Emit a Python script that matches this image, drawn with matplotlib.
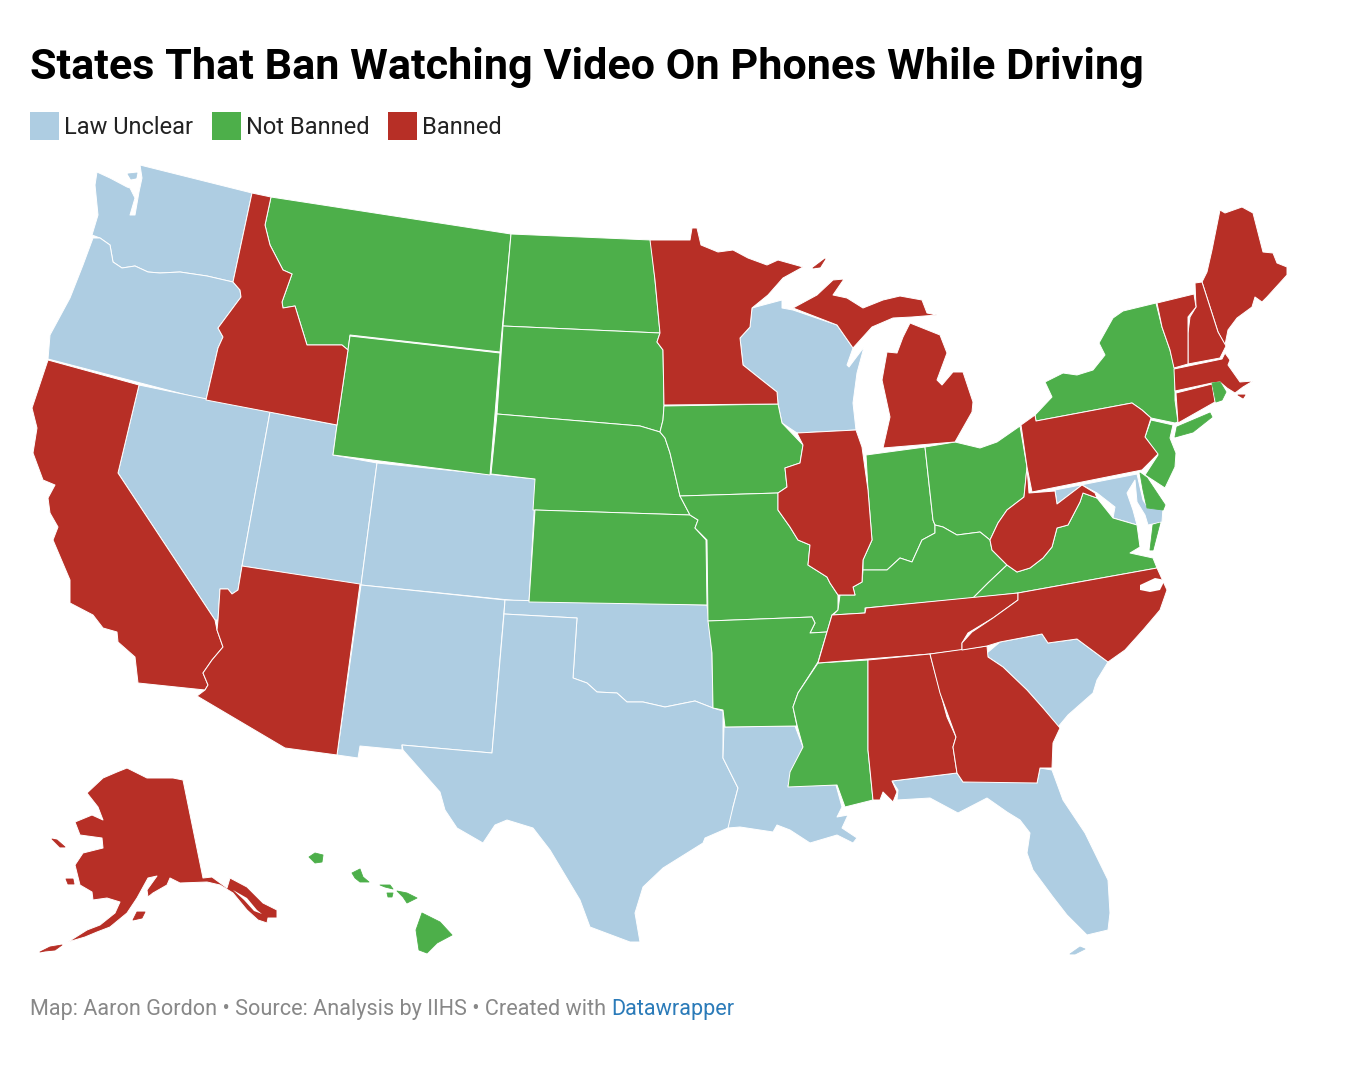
import matplotlib
matplotlib.use("Agg")
import matplotlib.pyplot as plt
from matplotlib.patches import Polygon, Rectangle

TITLE = "States That Ban Watching Video On Phones While Driving"
LEGEND_LABELS = ["Law Unclear", "Not Banned", "Banned"]
FOOTER = "Map: Aaron Gordon • Source: Analysis by IIHS • Created with"
FOOTER_LINK = "Datawrapper"
COLORS = {"unclear": "#aecde2", "open": "#4daf4a", "banned": "#b72f26"}

WA = [(97,172),(110,178),(127,187),(130,188),(135,198),(130,215),(135,215),(139,192),(142,178),(140,165),(252,193),(233,282),(207,276),(180,272),(160,273),(148,272),(135,266),(122,268),(113,262),(110,245),(100,238),(92,235),(95,225),(98,215),(95,185)]
WA_ISLE = [(128,174),(137,173),(136,178),(131,179)]
OR = [(93,238),(100,238),(110,245),(113,262),(122,268),(135,266),(148,272),(160,273),(180,272),(207,276),(233,282),(240,290),(241,297),(218,328),(223,337),(218,348),(206,400),(48,359),(50,335),(70,298),(83,265)]
CA = [(48,360),(139,385),(118,473),(215,620),(217,630),(223,647),(212,660),(203,673),(208,685),(205,690),(138,683),(135,657),(118,642),(117,632),(103,628),(93,615),(70,603),(70,580),(53,540),(58,527),(50,513),(48,498),(55,485),(43,480),(33,453),(37,428),(32,408)]
NV = [(139,385),(270,412),(242,566),(238,590),(232,594),(228,589),(220,589),(218,620),(215,620),(118,473)]
ID = [(252,193),(271,197),(265,225),(270,245),(283,270),(292,274),(282,302),(283,308),(295,306),(307,345),(342,345),(348,350),(337,425),(206,400),(218,348),(223,337),(218,328),(241,297),(240,290),(233,282)]
MT = [(271,197),(511,234),(500,352),(350,335),(348,350),(342,345),(307,345),(295,306),(283,308),(282,302),(292,274),(283,270),(270,245),(265,225)]
WY = [(350,336),(500,353),(490,475),(333,455),(337,425),(348,350)]
UT = [(270,412),(337,425),(333,455),(377,463),(361,585),(242,566)]
CO = [(377,463),(536,479),(529,602),(361,585)]
AZ = [(242,566),(360,584),(337,755),(285,748),(197,696),(205,690),(208,685),(203,673),(212,660),(223,647),(217,630),(218,620),(220,589),(228,589),(232,594),(238,590)]
NM = [(361,585),(505,600),(492,753),(402,745),(402,750),(360,746),(358,758),(337,755)]
ND = [(511,234),(651,240),(655,280),(660,333),(503,326)]
SD = [(503,326),(660,333),(657,342),(663,350),(664,405),(663,420),(660,432),(640,426),(497,414)]
NE = [(497,414),(640,426),(660,432),(665,438),(670,453),(680,496),(690,515),(533,510),(535,479),(491,474)]
KS = [(535,510),(690,515),(698,520),(695,528),(706,540),(707,605),(529,602)]
OK = [(505,600),(707,605),(712,653),(713,708),(695,701),(665,707),(643,702),(627,702),(617,693),(597,692),(587,683),(573,678),(577,618),(504,614)]
TX = [(504,614),(577,618),(573,678),(587,683),(597,692),(617,693),(627,702),(643,702),(665,707),(695,701),(713,708),(723,711),(723,758),(738,788),(733,807),(733,823),(728,828),(705,838),(703,843),(663,868),(643,887),(635,913),(640,942),(630,942),(590,927),(580,900),(550,850),(533,828),(507,820),(495,825),(483,843),(457,828),(445,810),(440,792),(403,750),(402,745),(492,753)]
LA = [(724,727),(795,726),(803,747),(788,786),(836,785),(842,807),(837,817),(848,815),(842,828),(857,838),(853,843),(837,835),(810,843),(790,830),(777,825),(773,832),(740,827),(728,828),(733,807),(738,788),(723,758)]
AR = [(708,621),(812,617),(815,623),(810,633),(827,632),(818,662),(798,693),(793,707),(797,726),(725,727),(723,710),(713,708),(712,653)]
MO = [(680,496),(778,493),(778,510),(790,527),(798,540),(810,545),(808,565),(827,577),(830,583),(838,595),(838,610),(832,615),(827,632),(810,633),(815,623),(812,617),(708,621),(707,540),(695,528),(698,520),(690,515)]
IA = [(664,406),(778,404),(782,423),(803,445),(800,463),(785,468),(787,487),(778,493),(680,496),(670,453),(665,438),(660,432),(663,420)]
MN = [(650,240),(690,240),(692,228),(697,228),(701,245),(718,252),(733,250),(748,258),(767,265),(778,260),(803,267),(783,278),(768,295),(752,308),(750,327),(740,338),(743,365),(758,377),(777,392),(778,404),(664,405),(663,350),(657,342),(660,333),(655,280)]
MN_ISLE = [(813,268),(825,259),(820,267)]
WI = [(752,308),(782,300),(782,308),(793,310),(837,325),(853,348),(847,365),(849,367),(864,347),(857,373),(853,403),(856,430),(797,433),(782,423),(778,404),(777,392),(758,377),(743,365),(740,338),(750,327)]
IL = [(797,433),(856,430),(862,447),(868,490),(872,540),(863,560),(862,582),(853,587),(855,595),(838,595),(830,583),(827,577),(808,565),(810,545),(798,540),(790,527),(778,510),(778,493),(787,487),(785,468),(800,463),(803,445)]
IN = [(866,455),(925,447),(933,520),(935,525),(935,533),(922,540),(912,562),(900,558),(887,570),(863,570),(863,560),(872,540),(868,490)]
OH = [(925,447),(955,442),(980,448),(997,442),(1020,426),(1027,467),(1024,497),(1007,510),(998,523),(990,540),(980,532),(957,535),(943,527),(935,525),(933,520)]
KY = [(838,610),(840,595),(855,595),(853,587),(862,582),(863,570),(887,570),(900,558),(912,562),(922,540),(935,533),(935,525),(943,527),(957,535),(980,532),(990,540),(992,550),(1007,565),(988,583),(973,598),(865,608),(865,613),(833,615)]
TN = [(832,615),(865,613),(866,608),(1018,593),(1018,600),(993,618),(968,633),(962,643),(962,650),(930,654),(818,663),(827,632)]
MS = [(818,663),(868,660),(868,750),(873,800),(845,807),(837,785),(788,787),(790,772),(803,747),(797,725),(793,707),(798,693)]
AL = [(868,660),(930,654),(947,717),(956,737),(953,747),(957,773),(892,781),(897,792),(893,802),(883,792),(880,800),(873,800),(868,750)]
GA = [(930,654),(987,646),(988,657),(1003,667),(1027,690),(1043,708),(1060,728),(1053,743),(1052,768),(1040,768),(1037,783),(963,782),(957,773),(953,747),(956,737),(940,693)]
FL = [(892,781),(957,773),(963,782),(1035,777),(1037,783),(1040,768),(1052,770),(1063,800),(1085,833),(1108,880),(1110,913),(1108,930),(1087,935),(1067,915),(1053,897),(1033,870),(1027,853),(1030,833),(1020,820),(1007,812),(987,798),(958,813),(930,798),(897,800),(898,790)]
FL_KEYS = [(1070,954),(1080,947),(1085,949),(1075,954)]
SC = [(987,653),(1000,642),(1042,634),(1048,643),(1077,639),(1108,662),(1097,680),(1093,693),(1068,715),(1058,727),(1043,708),(1027,690),(1003,667),(988,657)]
NC = [(1018,593),(1157,568),(1167,590),(1160,610),(1143,630),(1125,650),(1108,662),(1077,639),(1048,643),(1042,634),(1000,642),(987,646),(962,650),(962,643),(972,632),(993,618),(1018,600)]
VA = [(1097,498),(1113,518),(1137,525),(1140,547),(1130,553),(1153,558),(1157,568),(1018,593),(973,598),(988,583),(1007,565),(1017,572),(1030,568),(1043,558),(1052,547),(1057,528),(1068,525),(1080,502),(1083,493)]
VA_SHORE = [(1150,550),(1153,525),(1160,523),(1153,550)]
WV = [(1029,493),(1055,491),(1057,504),(1082,485),(1095,493),(1097,498),(1083,493),(1080,502),(1068,525),(1057,528),(1052,547),(1043,558),(1030,568),(1017,572),(1007,565),(992,550),(990,540),(998,523),(1007,510),(1024,497),(1027,467)]
PA = [(1021,425),(1035,415),(1036,421),(1132,403),(1142,410),(1151,418),(1145,437),(1158,454),(1142,470),(1032,492),(1027,467)]
NY = [(1156,303),(1162,327),(1170,350),(1175,370),(1175,400),(1178,422),(1175,423),(1151,418),(1142,410),(1132,403),(1036,421),(1035,415),(1052,397),(1045,382),(1063,373),(1077,375),(1093,370),(1105,355),(1099,343),(1113,318),(1123,311)]
NY_LI = [(1175,437),(1177,427),(1210,413),(1212,417),(1193,432)]
NJ = [(1151,420),(1173,425),(1170,438),(1176,453),(1175,467),(1165,488),(1145,475),(1158,455),(1145,437)]
DE = [(1140,473),(1147,478),(1165,505),(1163,510),(1147,508),(1143,490)]
MD = [(1055,490),(1137,474),(1143,500),(1148,508),(1163,508),(1162,522),(1148,525),(1145,515),(1137,502),(1135,480),(1127,493),(1133,510),(1137,525),(1113,518),(1115,507),(1097,493),(1082,485),(1057,504)]
ME = [(1202,282),(1207,272),(1212,250),(1220,210),(1225,213),(1242,207),(1253,213),(1263,252),(1273,253),(1277,263),(1287,267),(1287,275),(1267,297),(1262,302),(1255,297),(1252,307),(1237,318),(1228,330),(1225,345),(1218,332)]
NH = [(1195,283),(1202,282),(1218,332),(1226,346),(1220,358),(1188,364),(1188,333),(1190,317),(1196,307)]
VT = [(1157,303),(1194,294),(1196,307),(1188,317),(1188,364),(1174,368),(1170,350),(1162,327)]
MA = [(1174,369),(1222,359),(1225,353),(1230,360),(1228,365),(1240,382),(1253,381),(1243,387),(1235,393),(1227,388),(1220,382),(1212,383),(1175,391)]
MA_ISLE = [(1238,395),(1245,395),(1243,398)]
CT = [(1176,393),(1212,384),(1215,402),(1178,423)]
RI = [(1212,383),(1220,382),(1226,392),(1222,400),(1216,402)]
MI_LOWER = [(910,323),(940,335),(947,353),(937,380),(942,385),(953,372),(963,372),(973,402),(972,412),(955,442),(883,448),(890,417),(882,380),(887,352),(897,353),(903,337)]
MI_UPPER = [(793,308),(817,295),(833,280),(844,279),(833,295),(847,298),(863,308),(883,300),(900,296),(922,300),(927,313),(937,315),(912,317),(893,318),(872,327),(853,348),(837,325)]
AK = [(127,768),(147,778),(173,778),(183,780),(203,878),(212,877),(227,888),(230,878),(247,887),(263,903),(277,910),(277,918),(268,918),(267,923),(258,920),(247,910),(233,893),(220,885),(207,882),(180,883),(170,878),(167,885),(153,893),(148,897),(147,890),(157,876),(148,878),(137,898),(127,913),(110,927),(97,932),(85,937),(68,942),(87,930),(100,925),(115,913),(120,902),(107,898),(93,900),(92,892),(80,885),(75,865),(83,853),(103,848),(102,838),(80,835),(75,822),(92,815),(103,820),(98,807),(87,793),(103,778),(117,772)]
AK_KODIAK = [(133,920),(137,912),(145,912),(142,918)]
AK_LAWRENCE = [(52,839),(57,840),(65,847),(60,847)]
AK_NUNIVAK = [(66,879),(73,879),(74,884),(68,884)]
AK_ALEUT = [(40,952),(50,947),(62,945),(55,950),(45,951)]
HI_KAUAI = [(309,857),(315,853),(323,855),(322,862),(315,863)]
HI_OAHU = [(352,873),(360,869),(363,877),(369,882),(360,882),(355,878)]
HI_MOLOKAI = [(380,885),(390,885),(393,889),(385,887)]
HI_LANAI = [(387,893),(393,893),(392,897),(388,897)]
HI_MAUI = [(397,891),(407,893),(417,898),(407,903),(403,897)]
HI_BIG = [(422,913),(440,922),(452,935),(437,943),(427,953),(419,950),(416,930)]
PAMLICO = [(1140,585),(1155,578),(1165,580),(1160,590),(1150,592),(1140,590)]
AK_CHANNEL = [(233,890),(247,898),(257,910),(262,914),(254,911),(244,900)]

LAW_UNCLEAR = [WA, OR, NV, UT, CO, NM, OK, TX, LA, WI, SC, FL, MD]
NOT_BANNED = [MT, WY, ND, SD, NE, KS, IA, MO, AR, MS, IN, OH, KY, VA, NY, NJ]
BANNED = [CA, ID, AZ, MN, IL, TN, AL, GA, NC, WV, PA, ME, NH, VT, MA, CT, MI_LOWER, MI_UPPER, AK]
SMALL_UNCLEAR = [WA_ISLE, FL_KEYS]
SMALL_NOT_BANNED = [VA_SHORE, NY_LI, DE, RI, HI_KAUAI, HI_OAHU, HI_MOLOKAI, HI_LANAI, HI_MAUI, HI_BIG]
SMALL_BANNED = [MN_ISLE, MA_ISLE, AK_KODIAK, AK_LAWRENCE, AK_NUNIVAK, AK_ALEUT]

fig = plt.figure(figsize=(13.6, 10.84), dpi=100, facecolor="white")
ax = fig.add_axes([0, 0, 1, 1])
ax.set_xlim(0, 1360)
ax.set_ylim(1084, 0)
ax.axis("off")

for key, group in (("unclear", LAW_UNCLEAR), ("open", NOT_BANNED), ("banned", BANNED)):
    for outline in group:
        ax.add_patch(Polygon(outline, closed=True, facecolor=COLORS[key], edgecolor="white", linewidth=0.7, joinstyle="round"))
for key, group in (("unclear", SMALL_UNCLEAR), ("open", SMALL_NOT_BANNED), ("banned", SMALL_BANNED)):
    for outline in group:
        ax.add_patch(Polygon(outline, closed=True, facecolor=COLORS[key], edgecolor=COLORS[key], linewidth=0.6, joinstyle="round"))
for outline in (PAMLICO, AK_CHANNEL):
    ax.add_patch(Polygon(outline, closed=True, facecolor="white", edgecolor="none"))

ax.text(30, 68, TITLE, fontfamily="Roboto", fontweight="bold", fontsize=31.05, color="#000000", va="center", ha="left")

legend_x = [30, 212, 388]
text_x = [64, 246, 422]
for lx, tx, label, key in zip(legend_x, text_x, LEGEND_LABELS, COLORS):
    ax.add_patch(Rectangle((lx, 112), 29, 28, facecolor=COLORS[key], edgecolor="none"))
    ax.text(tx, 128, label, fontfamily="Roboto", fontsize=17, color="#222222", va="center", ha="left")

ax.text(30, 1010, FOOTER, fontfamily="Roboto", fontsize=15.6, color="#888888", va="center", ha="left")
ax.text(611, 1010, FOOTER_LINK, fontfamily="Roboto", fontsize=15.6, color="#2b7bb9", va="center", ha="left")

fig.savefig("out.png", dpi=100, facecolor="white")
